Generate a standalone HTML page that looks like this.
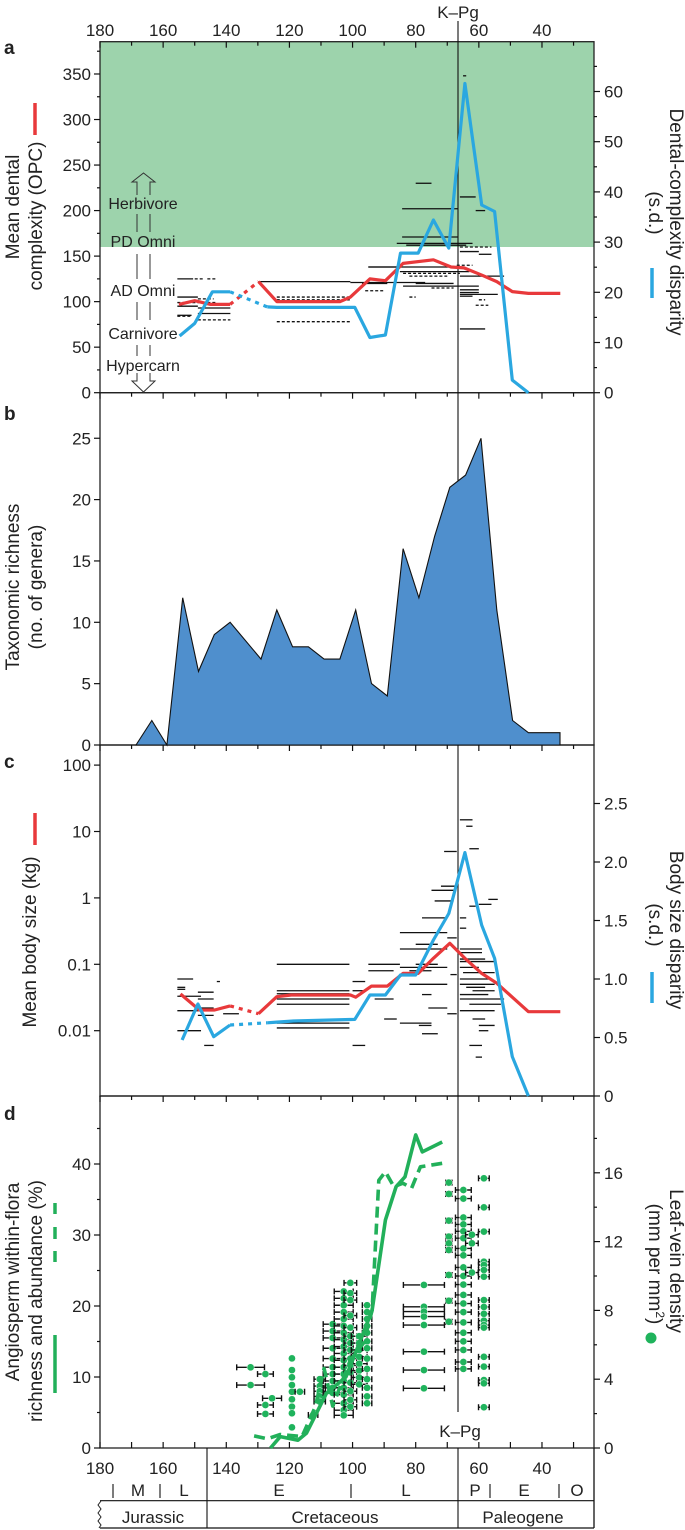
<!DOCTYPE html>
<html><head><meta charset="utf-8"><style>
html,body{margin:0;padding:0;background:#fff}
svg{display:block;font-family:"Liberation Sans",Arial,sans-serif}
</style></head><body>
<svg id="fig" width="685" height="1530" viewBox="0 0 685 1530" xmlns="http://www.w3.org/2000/svg">
<rect x="100" y="41.7" width="494" height="205.3" fill="#9dd3ac"/>
<g id="layer"></g>
</svg>
<script>
// ---------- DATA ----------
const topTicks=[180,160,140,120,100,80,60,40];
const opcTicks=[0,50,100,150,200,250,300,350];
const dispTicksA=[0,10,20,30,40,50,60];
const richTicks=[0,5,10,15,20,25];
const massTicks=[0.01,0.1,1,10,100];
const massTickLabels=["0.01","0.1","1","10","100"];
const bsdTicks=[0,0.5,1.0,1.5,2.0,2.5];
const bsdTickLabels=["0","0.5","1.0","1.5","2.0","2.5"];
const angTicks=[0,10,20,30,40];
const veinTicks=[0,4,8,12,16];

const redA_t=[155,150,145,138.8,129.8,124,104,100.7,94.5,89.6,84,74.4,68.8,64.7,59,54.3,49.4,44.3,34.2];
const redA_v=[97,101,97,97,122,100,100,105,125,123,142,146,138,137,129,122,111,109,109];
const blueA_t=[154.8,150,144.4,138.8,127,124,99.3,94.5,89.6,84.8,79.2,74.4,69.5,64.4,59.1,55,49.4,44.3];
const blueA_v=[11.3,13.8,20.1,20.1,17.1,17,17,11,11.5,27.8,27.8,34.4,28.8,61.6,37.4,36.1,2.5,0];
const barsA=[[155.5,150.5,125,0],[150,147,125,1],[146,143,125,1],[155.5,149,105,0],[149,144,103,1],[155.5,143,99,1],[155.5,149,95,0],[149,138.7,93,0],[155.5,151,85,0],[149,138.7,87,0],[149,138.7,80,1],[155.5,151,84,1],
[129.8,100.7,122,0],[124,100.7,105,1],[124,100.7,102,1],[124,100.7,78,1],[100.7,77,121,0],[97,89,120,0],[96,90,112,1],[95,85,138,0],[95,66,138,0],[84.3,66.7,202,0],[80,75,230,0],[84.3,66.7,171,0],[86,62,164,0],[83,64,162,0],[85,63,133,0],[84,66,131,1],[82,70,128,1],[84,60,117,0],[80,68,120,0],[75,68,115,1],[82,80,105,1],[66,61,215,0],[61,58,200,0],[66,60,155,0],[60,56,152,0],[66,52,128,0],[66,60,110,0],[66,54,108,0],[66,62,106,0],[60,58,102,1],[61,57,96,1],[66,58,70,0],[65,64,348,0],[66,56,160,1],[67,62,140,1],[66,60,113,0]];

const rich_t=[168.6,163.6,158.8,153.8,148.8,143.8,138.8,129,124,119,114,109,104,99,94,89,84,79,74,69.2,64.2,59.3,54.3,49.3,44.3,34.3];
const rich_v=[0,2,0,12,6,9,10,7,11,8,8,7,7,11,5,4,16,12,17,21,22,25,11,2,1,1];

const redC_t=[154.5,148.5,143.7,138.8,129.8,124,119.4,100.7,99,94,89,84,79.2,74.4,69.2,64.4,59.1,54.3,49.4,44.3,34.2];
const redC_v=[0.0357,0.0205,0.0205,0.0236,0.018,0.0325,0.0345,0.0345,0.032,0.047,0.047,0.073,0.073,0.123,0.207,0.123,0.073,0.052,0.032,0.0193,0.0193];
const blueC_t=[154,149,144,138.8,127,124,118.7,99.3,94.5,89.6,84.8,80,74.4,69.5,64.4,59.1,55,49.4,44.3];
const blueC_v=[0.479,0.786,0.507,0.607,0.626,0.632,0.641,0.655,0.863,0.863,1.034,1.034,1.333,1.56,2.08,1.46,1.177,0.336,0];
const barsC=[[155.5,150.5,0.06],[155.5,153,0.045],[155.5,153,0.042],[155.5,148,0.033],[155.5,148,0.02],[155.5,148,0.01],[149,144,0.038],[149,144,0.03],[149,144,0.022],[149,144,0.017],[147,144,0.006],[143,142,0.055],[141,136,0.018],
[124,101,0.1],[124,101,0.04],[124,101,0.036],[124,101,0.03],[124,101,0.025],[124,101,0.013],[124,101,0.011],[100,96,0.055],[100,96,0.04],[100,96,0.006],[95,85,0.1],[95,87,0.08],[93,87,0.03],[90,86,0.015],[85,70,0.3],[85,70,0.17],[85,70,0.09],[82,75,0.08],[82,70,0.05],[85,75,0.013],[80,73,0.1],[80,73,0.2],[78,70,0.5],[75,68,1.3],[74,68,0.9],[72,67,1.5],[71,67,5],[70,67,0.25],[78,75,0.035],[79,75,0.012],[78,73,0.009],[76,70,0.022],[70,67,0.018],[69,67,0.07],
[66,62,15],[64,62,12],[63,60,5.5],[63,61,0.75],[60,56,0.8],[57,54,0.95],[66,59,0.17],[66,59,0.15],[66,58,0.12],[66,55,0.11],[66,60,0.09],[65,55,0.075],[66,56,0.06],[66,55,0.05],[64,58,0.045],[62,55,0.04],[66,57,0.035],[66,52,0.03],[63,53,0.025],[66,55,0.02],[62,58,0.015],[60,55,0.012],[60,57,0.01],[63,59,0.006],[61,59,0.004],[66,64,0.5],[66,64,0.35]];

const angS_t=[126,122.9,117.3,114.6,108.3,102.1,97.9,93.8,89.6,86.2,83.4,80,77.9,71.6];
const angS_v=[0,1.6,1.1,2.1,7.7,10,14.7,19.4,32.1,36.8,38.2,44.1,41.7,43.1];
const angD_t=[131.2,127,122.9,116,111.8,109,106.3,100.7,96.5,93.8,91.7,89.6,86.9,84.1,81.3,78.5,71.6];
const angD_v=[1.7,1.3,1.9,1.6,5.8,11.2,5.9,12.4,14.8,19.4,37.7,38.9,36.8,37.3,36.6,39.6,40.1];
// vein-density columns: [age, halfwidth of age bar, values...]
const veinCols=[
[132.3,4.4,4.69,3.66],[127.6,2.5,4.3,2.5,1.98],[125.5,3,2.89],
[119.2,0,5.21,4.53,4.11,3.66,3.27,2.83,2.4,2.02,1.2],[116.7,1.5,3.27],[112.5,1.5,1.92],
[110.4,1.8,4.0,3.6,3.3,3.0,2.7],[106.3,3,7.2,6.8,6.4,5.8,5.2,4.7,4.3,3.9,3.5,3.2],
[102.8,3,9.1,8.7,8.3,7.9,7.5,7.1,6.7,6.3,5.9,5.5,5.1,4.7,4.3,3.9,3.5,3.1,2.6,2.2,1.9],
[100.7,2,9.6,9.0,8.6,7.7,7.0,6.5,6.1,5.7,5.2,4.8,4.4,3.8,3.3,2.8,2.4],
[97.9,2.5,6.5,6.1,5.7,5.3,4.9,4.5,4.1,3.7],[95.4,1.5,8.3,7.9,7.5,7.1,6.7,6.2,5.8,5.2,4.6,4.0,3.5,3.0,2.6],
[77.4,6.5,9.48,8.21,7.93,7.64,7.15,5.6,4.53,3.47],
[69.5,1,15.43,14.77,13.22,12.29,11.9,11.51,10.06,8.56,7.34],
[64.9,2.5,15.0,14.5,13.4,13.0,12.6,12.2,11.6,11.2,10.5,10.0,9.5,8.9,8.4,7.9,7.3,6.7,6.2,5.7,5.0,4.6],
[62.2,2,12.4,11.9,10.2],
[58.4,1.7,15.68,13.99,12.58,10.83,10.64,10.35,9.96,8.6,8.2,7.8,7.4,7.15,7.0,5.3,4.73,3.95,3.76,2.37]];

// ---------- SCALES ----------
const X=t=>100+(180-t)*3.157;
const yA=v=>392.7-v*0.9106, yAr=v=>392.7-v*5.02;
const yB=v=>745-v*12.27;
const yC=v=>1030.7-66.4*Math.log10(v/0.01), yCr=v=>1096-v*117;
const yD=v=>1448-v*7.1, yDr=v=>1448-v*17.2;

const NS="http://www.w3.org/2000/svg";
const L=document.getElementById('layer');
const TS=17, TT=19;
function mk(tag,attrs,txt){const e=document.createElementNS(NS,tag);for(const k in attrs)e.setAttribute(k,attrs[k]);if(txt!==undefined)e.textContent=txt;L.appendChild(e);return e;}
function line(x1,y1,x2,y2,w,col,dash){return mk('line',{x1,y1,x2,y2,stroke:col||'#111','stroke-width':w||1,'stroke-dasharray':dash||'none'});}
function text(x,y,s,size,anchor,rot){const a={x,y,'font-size':size||TS,'text-anchor':anchor||'middle',fill:'#222'};if(rot)a.transform=`rotate(${rot} ${x} ${y})`;return mk('text',a,s);}
function poly(ts,vs,ys,col,w,i0,i1,dash){const p=[];for(let i=i0;i<=i1;i++)p.push(X(ts[i]).toFixed(1)+','+ys(vs[i]).toFixed(1));return mk('polyline',{points:p.join(' '),fill:'none',stroke:col,'stroke-width':w,'stroke-linejoin':'round','stroke-dasharray':dash||'none'});}

// ---------- FRAMES ----------
const panels=[[41.7,392.7],[392.7,745],[745,1096],[1096,1448]];
panels.forEach((p,i)=>{
  let r=mk('rect',{x:100,y:p[0],width:494,height:p[1]-p[0],fill:'none',stroke:'#222','stroke-width':1.3});
  
  for(let t=180;t>=30;t-=10){const x=X(t);line(x,p[0],x,p[0]+(t%20===0?6:4),1.2);}
});
for(let t=180;t>=30;t-=10){const x=X(t);line(x,1448,x,1442,1.2);}
topTicks.forEach(t=>{const e=text(X(t),36,String(t),TS);});
text(458,18,'K–Pg',TS);
line(458,21,458,1412,1.1);
line(458,1448,458,1528,1.1);

[['a',54],['b',420],['c',768],['d',1120]].forEach(d=>{const e=text(4,d[1],d[0],19,'start');e.setAttribute('font-weight','bold');});

// ---------- PANEL A ----------
opcTicks.forEach(v=>{line(94,yA(v),100,yA(v),1.2);text(91,yA(v)+6,String(v),TS,'end');});
[25,75,125,175,225,275,325,375].forEach(v=>line(97,yA(v),100,yA(v),1.2));
dispTicksA.forEach(v=>{line(594,yAr(v),600,yAr(v),1.2);text(604,yAr(v)+6,String(v),TS,'start');});
[5,15,25,35,45,55,65].forEach(v=>line(594,yAr(v),597,yAr(v),1.2));
barsA.forEach(b=>{const e=line(X(b[0]),yA(b[2]),X(b[1]),yA(b[2]),1.3,'#111',b[3]?'3,2':'none');});
poly(redA_t,redA_v,yA,'#e8393b',3.2,0,3);poly(redA_t,redA_v,yA,'#e8393b',3.2,3,4,'4,5');poly(redA_t,redA_v,yA,'#e8393b',3.2,4,redA_t.length-1);
poly(blueA_t,blueA_v,yAr,'#2aa7e0',3.2,0,3);poly(blueA_t,blueA_v,yAr,'#2aa7e0',3.2,3,4,'4,5');poly(blueA_t,blueA_v,yAr,'#2aa7e0',3.2,4,blueA_t.length-1);
text(19,207,'Mean dental',TT,'middle',-90);text(42,216,'complexity (OPC)',TT,'middle',-90);
line(35,103,35,135,3.5,'#e8393b');
text(670,222,'Dental-complexity disparity',TT,'middle',90);text(649,213,'(s.d.)',TT,'middle',90);
line(652,268,652,298,3.5,'#2aa7e0');
[['Herbivore',209],['PD Omni',247],['AD Omni',296],['Carnivore',339],['Hypercarn',371]].forEach(d=>text(143,d[1],d[0],16));
[[190,195],[214,232],[254,279],[302,320],[345,356]].forEach(s=>{line(137,s[0],137,s[1],1,'#333');line(150,s[0],150,s[1],1,'#333');});
mk('path',{d:'M137,190 L137,182 L132,182 L143.5,173 L155,182 L150,182 L150,190',fill:'none',stroke:'#333','stroke-width':1});
mk('path',{d:'M137,373 L137,381 L132,381 L143.5,392 L155,381 L150,381 L150,373',fill:'none',stroke:'#333','stroke-width':1});

// ---------- PANEL B ----------
richTicks.forEach(v=>{line(94,yB(v),100,yB(v),1.2);text(91,yB(v)+6,String(v),TS,'end');});
{const p=[];for(let i=0;i<rich_t.length;i++)p.push(X(rich_t[i]).toFixed(1)+','+yB(rich_v[i]).toFixed(1));p.push(X(rich_t[rich_t.length-1]).toFixed(1)+','+yB(0));
const e=mk('polygon',{points:p.join(' '),fill:'#4f8fcd',stroke:'#111','stroke-width':1.1});}
text(19,587,'Taxonomic richness',TT,'middle',-90);text(42,587,'(no. of genera)',TT,'middle',-90);

// ---------- PANEL C ----------
massTicks.forEach((v,i)=>{line(94,yC(v),100,yC(v),1.2);text(91,yC(v)+6,massTickLabels[i],TS,'end');});
bsdTicks.forEach((v,i)=>{line(594,yCr(v),600,yCr(v),1.2);text(604,yCr(v)+6,bsdTickLabels[i],TS,'start');});
barsC.forEach(b=>{const e=line(X(b[0]),yC(b[2]),X(b[1]),yC(b[2]),1.3);});
poly(redC_t,redC_v,yC,'#e8393b',3.2,0,3);poly(redC_t,redC_v,yC,'#e8393b',3.2,3,4,'4,5');poly(redC_t,redC_v,yC,'#e8393b',3.2,4,redC_t.length-1);
poly(blueC_t,blueC_v,yCr,'#2aa7e0',3.2,0,3);poly(blueC_t,blueC_v,yCr,'#2aa7e0',3.2,3,4,'4,5');poly(blueC_t,blueC_v,yCr,'#2aa7e0',3.2,4,blueC_t.length-1);
text(36,942,'Mean body size (kg)',TT,'middle',-90);
line(35,813,35,845,3.5,'#e8393b');
text(670,930,'Body size disparity',TT,'middle',90);text(649,925,'(s.d.)',TT,'middle',90);
line(652,972,652,1003,3.5,'#2aa7e0');

// ---------- PANEL D ----------
angTicks.forEach(v=>{line(94,yD(v),100,yD(v),1.2);text(91,yD(v)+6,String(v),TS,'end');});
[5,15,25,35,45].forEach(v=>line(97,yD(v),100,yD(v),1.2));
veinTicks.forEach(v=>{line(594,yDr(v),600,yDr(v),1.2);text(604,yDr(v)+6,String(v),TS,'start');});
[2,6,10,14,18].forEach(v=>line(594,yDr(v),597,yDr(v),1.2));
veinCols.forEach(c=>{const t=c[0],hw=c[1];for(let k=2;k<c.length;k++){const y=yDr(c[k]);
 if(hw>0){line(X(t+hw),y,X(t-hw),y,1.4);line(X(t+hw),y-3,X(t+hw),y+3,1.4);line(X(t-hw),y-3,X(t-hw),y+3,1.4);}
 const d=mk('circle',{cx:X(t),cy:y,r:3.6,fill:'#1fb35c',stroke:'#fff','stroke-width':0.5});
 }});
poly(angD_t,angD_v,yD,'#22b05a',3.6,0,angD_t.length-1,'11,6');
poly(angS_t,angS_v,yD,'#22b05a',3.6,0,angS_t.length-1);
text(460,1437,'K–Pg',TS);
text(19,1282,'Angiosperm within-flora',TT,'middle',-90);text(42,1301,'richness and abundance (%)',TT,'middle',-90);
line(55,1203,55,1214,3.5,'#22b05a');line(55,1227,55,1239,3.5,'#22b05a');line(55,1251,55,1262,3.5,'#22b05a');
line(55,1335,55,1393,3.5,'#22b05a');
text(670,1261,'Leaf-vein density',TT,'middle',90);
{const e=text(649,1264,'',TT,'middle',90);e.innerHTML='(mm per mm<tspan font-size="12" dy="-7">2</tspan><tspan dy="7">)</tspan>';}
mk('circle',{cx:651,cy:1338,r:5.5,fill:'#1fb35c'});

// ---------- TIME SCALE ----------
topTicks.forEach(t=>{const e=text(X(t),1474,String(t),TS);});
[['M',138],['L',184],['E',279],['L',406],['P',475],['E',524],['O',577]].forEach(d=>text(d[1],1496,d[0],TS));
[113,160,351,490,559].forEach(x=>line(x,1484,x,1498,1.1));
line(207,1448,207,1528,1.1);line(594,1448,594,1528,1.3);
line(100,1500.7,594,1500.7,1.1);line(100,1528,594,1528,1.3);
mk('path',{d:'M101,1501 l-3,4 l3,4 l-3,4 l3,4 l-3,4 l3,4 l-2,3',fill:'none',stroke:'#222','stroke-width':1});
text(153,1523,'Jurassic',TS);text(335,1523,'Cretaceous',TS);text(523,1523,'Paleogene',TS);
</script>
</body></html>
